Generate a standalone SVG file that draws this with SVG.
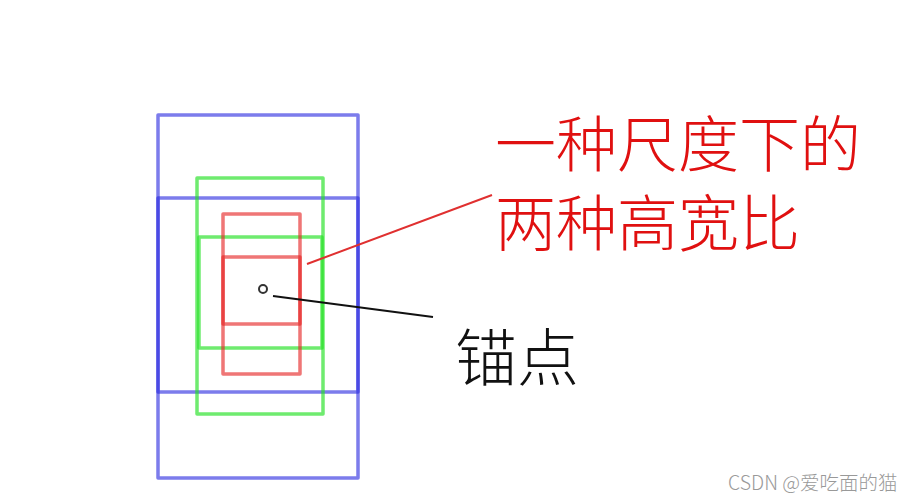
<svg xmlns="http://www.w3.org/2000/svg" width="915" height="501" viewBox="0 0 915 501">
<style>
.b{fill:none;stroke:#2b2be0;stroke-opacity:.62;stroke-width:3.5;stroke-linejoin:round}
.g{fill:none;stroke:#22e022;stroke-opacity:.65;stroke-width:3.5;stroke-linejoin:round}
.r{fill:none;stroke:#e52222;stroke-opacity:.62;stroke-width:3.5;stroke-linejoin:round}
.t{font-family:"Noto Sans CJK SC","Noto Sans",sans-serif;font-weight:300}
</style>
<rect width="915" height="501" fill="#fff"/>
<g id="blue-tall"><rect class="b" x="158" y="115" width="200" height="363"/></g>
<g id="blue-wide"><rect class="b" x="158" y="198" width="200" height="194"/></g>
<g id="green-tall"><rect class="g" x="197" y="178" width="126" height="236"/></g>
<g id="green-wide"><rect class="g" x="199" y="237" width="123" height="111"/></g>
<g id="red-tall"><rect class="r" x="223" y="214" width="77" height="160"/></g>
<g id="red-wide"><rect class="r" x="223" y="257" width="77" height="67"/></g>
<g id="anchor"><circle cx="263" cy="289" r="4" fill="#fff" stroke="#333" stroke-width="2"/></g>
<g id="connectors">
<line x1="307" y1="264" x2="492" y2="195" stroke="#e03030" stroke-width="2"/>
<line x1="273" y1="296" x2="433" y2="317" stroke="#111" stroke-width="2.2"/>
</g>
<g id="label-ratio" class="t" fill="#e01010" font-size="61">
<text x="495" y="167">一种尺度下的</text>
<text x="495" y="246">两种高宽比</text>
</g>
<g id="label-anchor"><text class="t" x="455" y="381" font-size="62" fill="#111">锚点</text></g>
<text class="t" x="728" y="490" font-size="19.5" fill="#999" font-weight="400">CSDN @爱吃面的猫</text>
</svg>
